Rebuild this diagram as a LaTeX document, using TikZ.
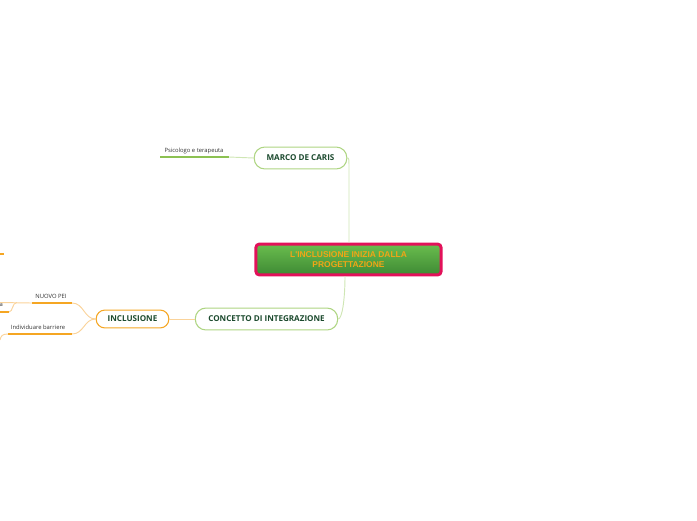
\documentclass[tikz,border=0pt]{standalone}
\usepackage{fontspec}
\setmainfont{Open Sans}
\newfontfamily\rootfont{Liberation Sans}
\usetikzlibrary{positioning}
\definecolor{rootred}{HTML}{E2115A}
\definecolor{roottop}{HTML}{6ABD4E}
\definecolor{rootbot}{HTML}{3E8A34}
\definecolor{rootgold}{HTML}{F2A516}
\definecolor{leafgreen}{HTML}{AED582}
\definecolor{palegreen}{HTML}{CFE6B4}
\definecolor{darkgreen}{HTML}{1C4A2E}
\definecolor{linegreen}{HTML}{8CC152}
\definecolor{branchorange}{HTML}{F5A623}
\definecolor{paleorange}{HTML}{FAD39A}
\begin{document}
\begin{tikzpicture}[x=0.03cm,y=-0.03cm,
    rootbox/.style={draw=rootred,line width=3*0.85pt,rounded corners=3pt,
      top color=roottop,bottom color=rootbot,minimum width=186*0.85pt,minimum height=31*0.85pt,
      align=center,text=rootgold,font=\rootfont\bfseries\fontsize{7.2}{8.6}\selectfont,inner sep=0pt},
    topicbox/.style={draw=leafgreen,fill=white,line width=0.9pt,rounded corners=9pt,
      minimum height=22*0.85pt,inner sep=0pt,text=darkgreen,font=\bfseries\fontsize{6.9}{8}\selectfont},
    subbox/.style={topicbox,draw=branchorange,minimum height=18*0.85pt,rounded corners=7.5pt},
    leaf/.style={font=\fontsize{5}{6}\selectfont,text=black!80,inner sep=0pt},
    greenlink/.style={draw=palegreen,line width=0.8pt},
    orangelink/.style={draw=paleorange,line width=0.8pt},
    greenline/.style={draw=linegreen,line width=1.6pt},
    orangeline/.style={draw=branchorange,line width=1.6pt}]
  \useasboundingbox (0,0) rectangle (697,520);
  \clip (0,0) rectangle (697,520);

  % topics
  \node[rootbox] (root) at (348.5,259.5) {L'INCLUSIONE INIZIA DALLA\\PROGETTAZIONE};
  \node[topicbox,minimum width=93*0.85pt] (marco) at (300.5,158) {MARCO DE CARIS};
  \node[topicbox,minimum width=143*0.85pt] (concetto) at (266.5,319) {CONCETTO DI INTEGRAZIONE};
  \node[subbox,minimum width=73*0.85pt] (inclusione) at (132.5,319) {INCLUSIONE};

  % leaves and their underlines
  \node[leaf] (psico) at (194,151) {Psicologo e terapeuta};
  \coordinate (psicoL) at (160,157);
  \coordinate (psicoR) at (229,157);
  \node[leaf] (pei) at (51,296) {NUOVO PEI};
  \coordinate (peiL) at (32,303);
  \coordinate (peiR) at (72,303);
  \node[leaf] (barriere) at (38,327) {Individuare barriere};
  \coordinate (barL) at (8,334);
  \coordinate (barR) at (72,334);
  \node[leaf,anchor=east] (cutA) at (3,305) {a};
  \coordinate (cutAR) at (9,312);
  \coordinate (cutAL) at (0,312);
  \coordinate (cutTop) at (4,254);

  % connectors
  \draw[greenlink] (marco.east) .. controls (349,158) .. (349,172) -- (root.north -| 349,0);
  \draw[greenlink] (concetto.east) .. controls (342,319) and (345,300) .. (345,276);
  \draw[greenlink] (psicoR) -- (marco.west);
  \draw[greenline] (psicoL) -- (psicoR);
  \draw[orangelink] (inclusione.east) -- (concetto.west);
  \draw[orangelink] (inclusione.west) .. controls (84,319) and (84,303) .. (peiR);
  \draw[orangelink] (inclusione.west) .. controls (84,319) and (84,334) .. (barR);
  \draw[orangeline] (peiL) -- (peiR);
  \draw[orangeline] (barL) -- (barR);
  \draw[orangelink] (peiL) -- (0,302.5);
  \draw[orangelink] (17,302.5) .. controls (12,302.5) and (13,312) .. (cutAR);
  \draw[orangeline] (cutAL) -- (cutAR);
  \draw[orangelink] (barL) .. controls (2,334) and (1,336) .. (0,340);
  \draw[orangeline] (0,254) -- (cutTop);
\end{tikzpicture}
\end{document}
